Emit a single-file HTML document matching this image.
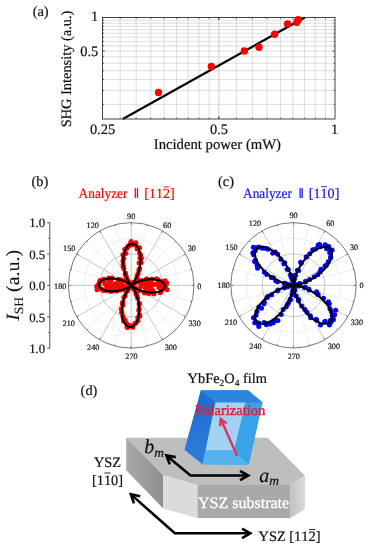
<!DOCTYPE html>
<html lang="en">
<head>
<meta charset="utf-8">
<title>SHG figure</title>
<style>
html,body{margin:0;padding:0;background:#ffffff;}
body{width:369px;height:550px;overflow:hidden;}
svg{display:block;}
svg text{white-space:pre;font-kerning:none;text-rendering:geometricPrecision;stroke-width:0.2px;}
</style>
</head>
<body>
<svg width="369" height="550" viewBox="0 0 369 550">
<rect x="0" y="0" width="369" height="550" fill="#ffffff"/>
<g stroke="#d4d4d4" stroke-width="0.8" fill="none">
<line x1="120.17" y1="17.5" x2="120.17" y2="119.0"/>
<line x1="136.16" y1="17.5" x2="136.16" y2="119.0"/>
<line x1="150.75" y1="17.5" x2="150.75" y2="119.0"/>
<line x1="164.17" y1="17.5" x2="164.17" y2="119.0"/>
<line x1="176.60" y1="17.5" x2="176.60" y2="119.0"/>
<line x1="188.17" y1="17.5" x2="188.17" y2="119.0"/>
<line x1="199.00" y1="17.5" x2="199.00" y2="119.0"/>
<line x1="209.16" y1="17.5" x2="209.16" y2="119.0"/>
<line x1="218.75" y1="17.5" x2="218.75" y2="119.0"/>
<line x1="218.75" y1="17.5" x2="218.75" y2="119.0"/>
<line x1="236.42" y1="17.5" x2="236.42" y2="119.0"/>
<line x1="252.41" y1="17.5" x2="252.41" y2="119.0"/>
<line x1="267.00" y1="17.5" x2="267.00" y2="119.0"/>
<line x1="280.42" y1="17.5" x2="280.42" y2="119.0"/>
<line x1="292.85" y1="17.5" x2="292.85" y2="119.0"/>
<line x1="304.42" y1="17.5" x2="304.42" y2="119.0"/>
<line x1="315.25" y1="17.5" x2="315.25" y2="119.0"/>
<line x1="325.41" y1="17.5" x2="325.41" y2="119.0"/>
<line x1="102.5" y1="20.27" x2="335.0" y2="20.27"/>
<line x1="102.5" y1="23.21" x2="335.0" y2="23.21"/>
<line x1="102.5" y1="26.34" x2="335.0" y2="26.34"/>
<line x1="102.5" y1="29.68" x2="335.0" y2="29.68"/>
<line x1="102.5" y1="33.27" x2="335.0" y2="33.27"/>
<line x1="102.5" y1="37.15" x2="335.0" y2="37.15"/>
<line x1="102.5" y1="41.37" x2="335.0" y2="41.37"/>
<line x1="102.5" y1="45.99" x2="335.0" y2="45.99"/>
<line x1="102.5" y1="51.10" x2="335.0" y2="51.10"/>
<line x1="102.5" y1="56.81" x2="335.0" y2="56.81"/>
<line x1="102.5" y1="63.28" x2="335.0" y2="63.28"/>
<line x1="102.5" y1="70.75" x2="335.0" y2="70.75"/>
<line x1="102.5" y1="79.59" x2="335.0" y2="79.59"/>
<line x1="102.5" y1="90.41" x2="335.0" y2="90.41"/>
<line x1="102.5" y1="104.35" x2="335.0" y2="104.35"/>
</g>
<g stroke="#333" stroke-width="0.8" fill="none">
<line x1="120.17" y1="119.0" x2="120.17" y2="117.6"/>
<line x1="120.17" y1="17.5" x2="120.17" y2="18.9"/>
<line x1="136.16" y1="119.0" x2="136.16" y2="117.6"/>
<line x1="136.16" y1="17.5" x2="136.16" y2="18.9"/>
<line x1="150.75" y1="119.0" x2="150.75" y2="117.6"/>
<line x1="150.75" y1="17.5" x2="150.75" y2="18.9"/>
<line x1="164.17" y1="119.0" x2="164.17" y2="117.6"/>
<line x1="164.17" y1="17.5" x2="164.17" y2="18.9"/>
<line x1="176.60" y1="119.0" x2="176.60" y2="117.6"/>
<line x1="176.60" y1="17.5" x2="176.60" y2="18.9"/>
<line x1="188.17" y1="119.0" x2="188.17" y2="117.6"/>
<line x1="188.17" y1="17.5" x2="188.17" y2="18.9"/>
<line x1="199.00" y1="119.0" x2="199.00" y2="117.6"/>
<line x1="199.00" y1="17.5" x2="199.00" y2="18.9"/>
<line x1="209.16" y1="119.0" x2="209.16" y2="117.6"/>
<line x1="209.16" y1="17.5" x2="209.16" y2="18.9"/>
<line x1="218.75" y1="119.0" x2="218.75" y2="116.6"/>
<line x1="218.75" y1="17.5" x2="218.75" y2="19.9"/>
<line x1="218.75" y1="119.0" x2="218.75" y2="116.6"/>
<line x1="218.75" y1="17.5" x2="218.75" y2="19.9"/>
<line x1="236.42" y1="119.0" x2="236.42" y2="117.6"/>
<line x1="236.42" y1="17.5" x2="236.42" y2="18.9"/>
<line x1="252.41" y1="119.0" x2="252.41" y2="117.6"/>
<line x1="252.41" y1="17.5" x2="252.41" y2="18.9"/>
<line x1="267.00" y1="119.0" x2="267.00" y2="117.6"/>
<line x1="267.00" y1="17.5" x2="267.00" y2="18.9"/>
<line x1="280.42" y1="119.0" x2="280.42" y2="117.6"/>
<line x1="280.42" y1="17.5" x2="280.42" y2="18.9"/>
<line x1="292.85" y1="119.0" x2="292.85" y2="117.6"/>
<line x1="292.85" y1="17.5" x2="292.85" y2="18.9"/>
<line x1="304.42" y1="119.0" x2="304.42" y2="117.6"/>
<line x1="304.42" y1="17.5" x2="304.42" y2="18.9"/>
<line x1="315.25" y1="119.0" x2="315.25" y2="117.6"/>
<line x1="315.25" y1="17.5" x2="315.25" y2="18.9"/>
<line x1="325.41" y1="119.0" x2="325.41" y2="117.6"/>
<line x1="325.41" y1="17.5" x2="325.41" y2="18.9"/>
<line x1="102.5" y1="20.27" x2="103.9" y2="20.27"/>
<line x1="335.0" y1="20.27" x2="333.6" y2="20.27"/>
<line x1="102.5" y1="23.21" x2="103.9" y2="23.21"/>
<line x1="335.0" y1="23.21" x2="333.6" y2="23.21"/>
<line x1="102.5" y1="26.34" x2="103.9" y2="26.34"/>
<line x1="335.0" y1="26.34" x2="333.6" y2="26.34"/>
<line x1="102.5" y1="29.68" x2="103.9" y2="29.68"/>
<line x1="335.0" y1="29.68" x2="333.6" y2="29.68"/>
<line x1="102.5" y1="33.27" x2="103.9" y2="33.27"/>
<line x1="335.0" y1="33.27" x2="333.6" y2="33.27"/>
<line x1="102.5" y1="37.15" x2="103.9" y2="37.15"/>
<line x1="335.0" y1="37.15" x2="333.6" y2="37.15"/>
<line x1="102.5" y1="41.37" x2="103.9" y2="41.37"/>
<line x1="335.0" y1="41.37" x2="333.6" y2="41.37"/>
<line x1="102.5" y1="45.99" x2="103.9" y2="45.99"/>
<line x1="335.0" y1="45.99" x2="333.6" y2="45.99"/>
<line x1="102.5" y1="51.10" x2="104.9" y2="51.10"/>
<line x1="335.0" y1="51.10" x2="332.6" y2="51.10"/>
<line x1="102.5" y1="56.81" x2="103.9" y2="56.81"/>
<line x1="335.0" y1="56.81" x2="333.6" y2="56.81"/>
<line x1="102.5" y1="63.28" x2="103.9" y2="63.28"/>
<line x1="335.0" y1="63.28" x2="333.6" y2="63.28"/>
<line x1="102.5" y1="70.75" x2="103.9" y2="70.75"/>
<line x1="335.0" y1="70.75" x2="333.6" y2="70.75"/>
<line x1="102.5" y1="79.59" x2="103.9" y2="79.59"/>
<line x1="335.0" y1="79.59" x2="333.6" y2="79.59"/>
<line x1="102.5" y1="90.41" x2="103.9" y2="90.41"/>
<line x1="335.0" y1="90.41" x2="333.6" y2="90.41"/>
<line x1="102.5" y1="104.35" x2="103.9" y2="104.35"/>
<line x1="335.0" y1="104.35" x2="333.6" y2="104.35"/>
</g>
<line x1="122.8" y1="119.0" x2="304.8" y2="17.5" stroke="#000" stroke-width="2.2"/>
<rect x="102.5" y="17.5" width="232.5" height="101.5" fill="none" stroke="#3a3a3a" stroke-width="0.95"/>
<circle cx="158.5" cy="92.5" r="3.7" fill="#ff0000"/>
<circle cx="211.3" cy="66.5" r="3.7" fill="#ff0000"/>
<circle cx="244.4" cy="51.0" r="3.7" fill="#ff0000"/>
<circle cx="259.0" cy="47.3" r="3.7" fill="#ff0000"/>
<circle cx="274.6" cy="34.2" r="3.7" fill="#ff0000"/>
<circle cx="287.6" cy="24.0" r="3.7" fill="#ff0000"/>
<circle cx="296.8" cy="22.2" r="3.7" fill="#ff0000"/>
<circle cx="298.2" cy="19.8" r="3.7" fill="#ff0000"/>
<g font-family="'Liberation Serif', 'DejaVu Serif', serif" font-size="14.4px" fill="#111" stroke="#111">
<text x="32.7" y="15.8">(a)</text>
<text x="98.2" y="21.2" text-anchor="end">1</text>
<text x="98.2" y="56.2" text-anchor="end">0.5</text>
<text x="102.5" y="134.3" text-anchor="middle">0.25</text>
<text x="219" y="134.3" text-anchor="middle">0.5</text>
<text x="334.5" y="134.3" text-anchor="middle">1</text>
<text x="217.4" y="148.6" text-anchor="middle" font-size="14.7px">Incident power (mW)</text>
<text transform="translate(71.3,69) rotate(-90)" text-anchor="middle">SHG Intensity (a.u.)</text>
</g>
<g fill="none" stroke="#e6e6e6" stroke-width="0.7">
<line x1="131.20" y1="285.40" x2="191.86" y2="269.15"/>
<line x1="131.20" y1="285.40" x2="175.61" y2="240.99"/>
<line x1="131.20" y1="285.40" x2="147.45" y2="224.74"/>
<line x1="131.20" y1="285.40" x2="114.95" y2="224.74"/>
<line x1="131.20" y1="285.40" x2="86.79" y2="240.99"/>
<line x1="131.20" y1="285.40" x2="70.54" y2="269.15"/>
<line x1="131.20" y1="285.40" x2="70.54" y2="301.65"/>
<line x1="131.20" y1="285.40" x2="86.79" y2="329.81"/>
<line x1="131.20" y1="285.40" x2="114.95" y2="346.06"/>
<line x1="131.20" y1="285.40" x2="147.45" y2="346.06"/>
<line x1="131.20" y1="285.40" x2="175.61" y2="329.81"/>
<line x1="131.20" y1="285.40" x2="191.86" y2="301.65"/>
<circle cx="131.2" cy="285.4" r="15.70"/>
<circle cx="131.2" cy="285.4" r="47.10"/>
</g>
<g fill="none" stroke="#b9b9b9" stroke-width="0.8">
<line x1="131.20" y1="285.40" x2="194.00" y2="285.40"/>
<line x1="131.20" y1="285.40" x2="185.59" y2="254.00"/>
<line x1="131.20" y1="285.40" x2="162.60" y2="231.01"/>
<line x1="131.20" y1="285.40" x2="131.20" y2="222.60"/>
<line x1="131.20" y1="285.40" x2="99.80" y2="231.01"/>
<line x1="131.20" y1="285.40" x2="76.81" y2="254.00"/>
<line x1="131.20" y1="285.40" x2="68.40" y2="285.40"/>
<line x1="131.20" y1="285.40" x2="76.81" y2="316.80"/>
<line x1="131.20" y1="285.40" x2="99.80" y2="339.79"/>
<line x1="131.20" y1="285.40" x2="131.20" y2="348.20"/>
<line x1="131.20" y1="285.40" x2="162.60" y2="339.79"/>
<line x1="131.20" y1="285.40" x2="185.59" y2="316.80"/>
<circle cx="131.2" cy="285.4" r="31.40"/>
</g>
<g fill="none" stroke="#666" stroke-width="0.9">
<circle cx="131.2" cy="285.4" r="62.8"/>
<line x1="194.00" y1="285.40" x2="191.80" y2="285.40"/>
<line x1="191.86" y1="269.15" x2="190.51" y2="269.51"/>
<line x1="185.59" y1="254.00" x2="183.68" y2="255.10"/>
<line x1="175.61" y1="240.99" x2="174.62" y2="241.98"/>
<line x1="162.60" y1="231.01" x2="161.50" y2="232.92"/>
<line x1="147.45" y1="224.74" x2="147.09" y2="226.09"/>
<line x1="131.20" y1="222.60" x2="131.20" y2="224.80"/>
<line x1="114.95" y1="224.74" x2="115.31" y2="226.09"/>
<line x1="99.80" y1="231.01" x2="100.90" y2="232.92"/>
<line x1="86.79" y1="240.99" x2="87.78" y2="241.98"/>
<line x1="76.81" y1="254.00" x2="78.72" y2="255.10"/>
<line x1="70.54" y1="269.15" x2="71.89" y2="269.51"/>
<line x1="68.40" y1="285.40" x2="70.60" y2="285.40"/>
<line x1="70.54" y1="301.65" x2="71.89" y2="301.29"/>
<line x1="76.81" y1="316.80" x2="78.72" y2="315.70"/>
<line x1="86.79" y1="329.81" x2="87.78" y2="328.82"/>
<line x1="99.80" y1="339.79" x2="100.90" y2="337.88"/>
<line x1="114.95" y1="346.06" x2="115.31" y2="344.71"/>
<line x1="131.20" y1="348.20" x2="131.20" y2="346.00"/>
<line x1="147.45" y1="346.06" x2="147.09" y2="344.71"/>
<line x1="162.60" y1="339.79" x2="161.50" y2="337.88"/>
<line x1="175.61" y1="329.81" x2="174.62" y2="328.82"/>
<line x1="185.59" y1="316.80" x2="183.68" y2="315.70"/>
<line x1="191.86" y1="301.65" x2="190.51" y2="301.29"/>
</g>
<g fill="#ff0000">
<circle cx="166.14" cy="284.53" r="2.5"/>
<circle cx="166.66" cy="282.81" r="2.5"/>
<circle cx="165.04" cy="280.79" r="2.5"/>
<circle cx="159.71" cy="282.20" r="2.5"/>
<circle cx="161.61" cy="281.40" r="2.5"/>
<circle cx="158.85" cy="281.03" r="2.5"/>
<circle cx="158.19" cy="279.84" r="2.5"/>
<circle cx="156.53" cy="278.68" r="2.5"/>
<circle cx="151.93" cy="278.94" r="2.5"/>
<circle cx="149.25" cy="280.10" r="2.5"/>
<circle cx="146.37" cy="279.22" r="2.5"/>
<circle cx="146.69" cy="278.95" r="2.5"/>
<circle cx="141.91" cy="280.69" r="2.5"/>
<circle cx="140.89" cy="280.40" r="2.5"/>
<circle cx="137.51" cy="281.87" r="2.5"/>
<circle cx="134.89" cy="283.35" r="2.5"/>
<circle cx="132.07" cy="284.91" r="2.5"/>
<circle cx="132.38" cy="284.54" r="2.5"/>
<circle cx="131.34" cy="285.30" r="2.5"/>
<circle cx="131.72" cy="284.96" r="2.5"/>
<circle cx="131.96" cy="284.75" r="2.5"/>
<circle cx="131.23" cy="285.37" r="2.5"/>
<circle cx="131.20" cy="285.40" r="2.5"/>
<circle cx="131.26" cy="285.33" r="2.5"/>
<circle cx="132.51" cy="283.95" r="2.5"/>
<circle cx="132.88" cy="283.41" r="2.5"/>
<circle cx="133.88" cy="282.09" r="2.5"/>
<circle cx="136.92" cy="278.12" r="2.5"/>
<circle cx="133.15" cy="282.53" r="2.5"/>
<circle cx="137.11" cy="275.79" r="2.5"/>
<circle cx="138.11" cy="273.51" r="2.5"/>
<circle cx="138.97" cy="270.07" r="2.5"/>
<circle cx="139.60" cy="268.51" r="2.5"/>
<circle cx="141.13" cy="262.44" r="2.5"/>
<circle cx="139.05" cy="263.02" r="2.5"/>
<circle cx="141.41" cy="258.35" r="2.5"/>
<circle cx="139.94" cy="257.96" r="2.5"/>
<circle cx="140.59" cy="255.10" r="2.5"/>
<circle cx="139.59" cy="253.16" r="2.5"/>
<circle cx="139.57" cy="247.65" r="2.5"/>
<circle cx="137.10" cy="249.10" r="2.5"/>
<circle cx="136.13" cy="245.43" r="2.5"/>
<circle cx="135.83" cy="242.76" r="2.5"/>
<circle cx="134.14" cy="243.83" r="2.5"/>
<circle cx="132.07" cy="244.84" r="2.5"/>
<circle cx="131.05" cy="241.41" r="2.5"/>
<circle cx="129.97" cy="244.16" r="2.5"/>
<circle cx="129.07" cy="245.81" r="2.5"/>
<circle cx="127.78" cy="246.57" r="2.5"/>
<circle cx="127.17" cy="248.23" r="2.5"/>
<circle cx="124.80" cy="249.31" r="2.5"/>
<circle cx="125.92" cy="253.39" r="2.5"/>
<circle cx="122.85" cy="254.82" r="2.5"/>
<circle cx="123.70" cy="258.26" r="2.5"/>
<circle cx="122.93" cy="261.04" r="2.5"/>
<circle cx="123.10" cy="264.43" r="2.5"/>
<circle cx="123.16" cy="266.51" r="2.5"/>
<circle cx="123.87" cy="268.72" r="2.5"/>
<circle cx="125.50" cy="273.30" r="2.5"/>
<circle cx="125.20" cy="274.47" r="2.5"/>
<circle cx="126.26" cy="276.57" r="2.5"/>
<circle cx="126.78" cy="278.62" r="2.5"/>
<circle cx="128.28" cy="280.98" r="2.5"/>
<circle cx="129.27" cy="282.83" r="2.5"/>
<circle cx="129.34" cy="282.93" r="2.5"/>
<circle cx="130.08" cy="284.04" r="2.5"/>
<circle cx="131.20" cy="285.40" r="2.5"/>
<circle cx="130.37" cy="284.51" r="2.5"/>
<circle cx="131.10" cy="285.31" r="2.5"/>
<circle cx="131.20" cy="285.40" r="2.5"/>
<circle cx="129.32" cy="283.85" r="2.5"/>
<circle cx="131.20" cy="285.40" r="2.5"/>
<circle cx="127.75" cy="282.81" r="2.5"/>
<circle cx="127.44" cy="282.95" r="2.5"/>
<circle cx="123.47" cy="281.07" r="2.5"/>
<circle cx="122.92" cy="280.85" r="2.5"/>
<circle cx="120.39" cy="279.83" r="2.5"/>
<circle cx="118.59" cy="279.49" r="2.5"/>
<circle cx="118.32" cy="279.60" r="2.5"/>
<circle cx="112.06" cy="277.91" r="2.5"/>
<circle cx="108.89" cy="277.91" r="2.5"/>
<circle cx="110.18" cy="279.36" r="2.5"/>
<circle cx="108.87" cy="279.79" r="2.5"/>
<circle cx="103.65" cy="279.35" r="2.5"/>
<circle cx="104.51" cy="279.64" r="2.5"/>
<circle cx="100.03" cy="280.38" r="2.5"/>
<circle cx="101.22" cy="280.94" r="2.5"/>
<circle cx="99.39" cy="282.22" r="2.5"/>
<circle cx="98.73" cy="284.17" r="2.5"/>
<circle cx="99.12" cy="285.18" r="2.5"/>
<circle cx="97.44" cy="285.91" r="2.5"/>
<circle cx="96.68" cy="286.48" r="2.5"/>
<circle cx="98.40" cy="288.02" r="2.5"/>
<circle cx="97.02" cy="289.78" r="2.5"/>
<circle cx="101.69" cy="289.35" r="2.5"/>
<circle cx="103.73" cy="290.69" r="2.5"/>
<circle cx="106.52" cy="290.10" r="2.5"/>
<circle cx="106.09" cy="290.87" r="2.5"/>
<circle cx="110.58" cy="291.56" r="2.5"/>
<circle cx="112.22" cy="290.99" r="2.5"/>
<circle cx="116.46" cy="290.91" r="2.5"/>
<circle cx="119.24" cy="290.01" r="2.5"/>
<circle cx="120.48" cy="289.83" r="2.5"/>
<circle cx="123.10" cy="289.36" r="2.5"/>
<circle cx="126.12" cy="288.22" r="2.5"/>
<circle cx="126.40" cy="288.40" r="2.5"/>
<circle cx="130.04" cy="286.17" r="2.5"/>
<circle cx="127.91" cy="287.63" r="2.5"/>
<circle cx="130.24" cy="286.06" r="2.5"/>
<circle cx="130.60" cy="285.84" r="2.5"/>
<circle cx="131.07" cy="285.51" r="2.5"/>
<circle cx="131.20" cy="285.40" r="2.5"/>
<circle cx="130.61" cy="285.97" r="2.5"/>
<circle cx="129.07" cy="287.72" r="2.5"/>
<circle cx="129.95" cy="286.80" r="2.5"/>
<circle cx="128.99" cy="287.98" r="2.5"/>
<circle cx="127.54" cy="289.85" r="2.5"/>
<circle cx="126.07" cy="291.87" r="2.5"/>
<circle cx="127.52" cy="290.66" r="2.5"/>
<circle cx="123.92" cy="297.25" r="2.5"/>
<circle cx="125.22" cy="295.70" r="2.5"/>
<circle cx="122.80" cy="302.02" r="2.5"/>
<circle cx="122.37" cy="303.37" r="2.5"/>
<circle cx="122.89" cy="305.28" r="2.5"/>
<circle cx="121.28" cy="309.04" r="2.5"/>
<circle cx="121.88" cy="312.14" r="2.5"/>
<circle cx="121.72" cy="312.51" r="2.5"/>
<circle cx="122.78" cy="316.12" r="2.5"/>
<circle cx="123.32" cy="318.58" r="2.5"/>
<circle cx="123.74" cy="321.24" r="2.5"/>
<circle cx="125.11" cy="319.91" r="2.5"/>
<circle cx="126.54" cy="323.32" r="2.5"/>
<circle cx="127.87" cy="327.62" r="2.5"/>
<circle cx="127.02" cy="327.15" r="2.5"/>
<circle cx="129.68" cy="325.93" r="2.5"/>
<circle cx="129.86" cy="325.58" r="2.5"/>
<circle cx="132.97" cy="327.32" r="2.5"/>
<circle cx="132.23" cy="326.09" r="2.5"/>
<circle cx="135.09" cy="323.23" r="2.5"/>
<circle cx="135.99" cy="322.92" r="2.5"/>
<circle cx="137.93" cy="320.82" r="2.5"/>
<circle cx="137.77" cy="317.73" r="2.5"/>
<circle cx="139.86" cy="316.13" r="2.5"/>
<circle cx="139.40" cy="314.54" r="2.5"/>
<circle cx="138.76" cy="310.35" r="2.5"/>
<circle cx="139.20" cy="308.91" r="2.5"/>
<circle cx="139.26" cy="304.57" r="2.5"/>
<circle cx="139.26" cy="303.35" r="2.5"/>
<circle cx="137.76" cy="298.58" r="2.5"/>
<circle cx="136.95" cy="295.87" r="2.5"/>
<circle cx="136.00" cy="293.94" r="2.5"/>
<circle cx="135.97" cy="293.05" r="2.5"/>
<circle cx="133.46" cy="288.85" r="2.5"/>
<circle cx="134.00" cy="289.53" r="2.5"/>
<circle cx="131.66" cy="285.99" r="2.5"/>
<circle cx="131.60" cy="285.92" r="2.5"/>
<circle cx="131.20" cy="285.40" r="2.5"/>
<circle cx="132.29" cy="286.54" r="2.5"/>
<circle cx="131.33" cy="285.52" r="2.5"/>
<circle cx="131.72" cy="285.89" r="2.5"/>
<circle cx="133.20" cy="287.08" r="2.5"/>
<circle cx="132.56" cy="286.41" r="2.5"/>
<circle cx="135.18" cy="288.37" r="2.5"/>
<circle cx="136.96" cy="289.02" r="2.5"/>
<circle cx="138.72" cy="289.89" r="2.5"/>
<circle cx="139.73" cy="290.57" r="2.5"/>
<circle cx="144.48" cy="292.90" r="2.5"/>
<circle cx="145.53" cy="292.47" r="2.5"/>
<circle cx="148.72" cy="293.80" r="2.5"/>
<circle cx="145.90" cy="290.88" r="2.5"/>
<circle cx="153.87" cy="293.99" r="2.5"/>
<circle cx="151.94" cy="292.22" r="2.5"/>
<circle cx="153.42" cy="292.05" r="2.5"/>
<circle cx="160.15" cy="292.60" r="2.5"/>
<circle cx="160.37" cy="292.51" r="2.5"/>
<circle cx="161.74" cy="289.96" r="2.5"/>
<circle cx="162.47" cy="288.59" r="2.5"/>
<circle cx="167.07" cy="289.74" r="2.5"/>
<circle cx="162.92" cy="288.49" r="2.5"/>
<circle cx="165.33" cy="286.75" r="2.5"/>
<circle cx="110.53" cy="281.43" r="2.5"/>
<circle cx="112.99" cy="287.45" r="2.5"/>
<circle cx="116.53" cy="286.95" r="2.5"/>
<circle cx="115.27" cy="283.75" r="2.5"/>
<circle cx="123.61" cy="286.66" r="2.5"/>
<circle cx="117.78" cy="285.43" r="2.5"/>
<circle cx="116.87" cy="287.10" r="2.5"/>
<circle cx="114.55" cy="284.17" r="2.5"/>
<circle cx="106.56" cy="285.85" r="2.5"/>
<circle cx="104.93" cy="283.70" r="2.5"/>
<circle cx="118.62" cy="283.23" r="2.5"/>
<circle cx="121.78" cy="283.72" r="2.5"/>
<circle cx="109.66" cy="288.06" r="2.5"/>
<circle cx="119.75" cy="283.80" r="2.5"/>
<circle cx="106.99" cy="284.51" r="2.5"/>
<circle cx="109.77" cy="288.40" r="2.5"/>
<circle cx="120.14" cy="285.85" r="2.5"/>
<circle cx="118.92" cy="284.85" r="2.5"/>
<circle cx="110.89" cy="285.65" r="2.5"/>
<circle cx="118.40" cy="283.71" r="2.5"/>
<circle cx="123.32" cy="286.38" r="2.5"/>
<circle cx="106.84" cy="288.67" r="2.5"/>
<circle cx="144.62" cy="282.71" r="2.5"/>
<circle cx="152.54" cy="284.91" r="2.5"/>
<circle cx="160.68" cy="283.66" r="2.5"/>
<circle cx="145.58" cy="284.22" r="2.5"/>
<circle cx="147.67" cy="282.77" r="2.5"/>
<circle cx="155.46" cy="284.32" r="2.5"/>
<circle cx="152.62" cy="290.17" r="2.5"/>
<circle cx="149.89" cy="284.07" r="2.5"/>
<circle cx="149.89" cy="285.21" r="2.5"/>
<circle cx="150.38" cy="288.00" r="2.5"/>
<circle cx="148.03" cy="288.88" r="2.5"/>
<circle cx="148.97" cy="284.26" r="2.5"/>
<circle cx="160.85" cy="284.54" r="2.5"/>
<circle cx="140.72" cy="283.74" r="2.5"/>
<circle cx="151.30" cy="282.80" r="2.5"/>
<circle cx="145.47" cy="288.26" r="2.5"/>
<circle cx="140.95" cy="286.55" r="2.5"/>
<circle cx="160.35" cy="284.90" r="2.5"/>
<circle cx="158.85" cy="287.56" r="2.5"/>
<circle cx="142.01" cy="284.47" r="2.5"/>
<circle cx="149.94" cy="282.42" r="2.5"/>
<circle cx="150.94" cy="281.65" r="2.5"/>
</g>
<polyline points="164.76,285.40 164.59,284.82 164.31,284.24 163.94,283.68 163.49,283.14 162.94,282.62 162.31,282.13 161.59,281.67 160.80,281.24 159.94,280.85 159.01,280.50 158.02,280.19 156.97,279.92 155.87,279.70 154.74,279.53 153.56,279.41 152.36,279.33 151.14,279.30 149.90,279.32 148.65,279.39 147.41,279.50 146.17,279.65 144.95,279.85 143.74,280.08 142.57,280.34 141.42,280.63 140.32,280.95 139.26,281.29 138.25,281.65 137.30,282.02 136.41,282.39 135.58,282.77 134.81,283.14 134.12,283.50 133.50,283.85 132.95,284.18 132.47,284.47 132.08,284.74 131.75,284.97 131.51,285.15 131.33,285.29 131.23,285.37 131.20,285.40 131.24,285.37 131.34,285.27 131.50,285.10 131.72,284.86 131.99,284.55 132.31,284.17 132.68,283.70 133.08,283.16 133.51,282.55 133.97,281.85 134.45,281.08 134.95,280.24 135.45,279.32 135.96,278.34 136.47,277.28 136.97,276.17 137.45,274.99 137.92,273.77 138.36,272.49 138.77,271.17 139.14,269.81 139.48,268.42 139.78,267.00 140.03,265.57 140.23,264.13 140.38,262.68 140.47,261.24 140.51,259.81 140.50,258.40 140.42,257.02 140.29,255.67 140.10,254.36 139.85,253.10 139.55,251.90 139.20,250.76 138.79,249.69 138.34,248.69 137.83,247.77 137.29,246.94 136.71,246.20 136.09,245.56 135.44,245.01 134.77,244.57 134.08,244.23 133.37,243.99 132.65,243.86 131.93,243.84 131.20,243.93 130.48,244.13 129.77,244.44 129.07,244.84 128.40,245.36 127.75,245.97 127.13,246.67 126.54,247.47 125.99,248.36 125.49,249.33 125.02,250.38 124.61,251.50 124.24,252.68 123.93,253.92 123.67,255.21 123.47,256.55 123.32,257.92 123.23,259.33 123.19,260.75 123.21,262.19 123.28,263.64 123.40,265.08 123.57,266.52 123.79,267.95 124.05,269.35 124.35,270.72 124.69,272.06 125.06,273.35 125.46,274.60 125.88,275.80 126.31,276.94 126.76,278.01 127.22,279.02 127.67,279.97 128.12,280.84 128.56,281.63 128.99,282.35 129.39,283.00 129.76,283.56 130.11,284.05 130.41,284.46 130.67,284.79 130.88,285.05 131.05,285.23 131.15,285.35 131.20,285.40 131.18,285.38 131.10,285.31 130.95,285.18 130.73,284.99 130.44,284.76 130.08,284.49 129.65,284.19 129.14,283.85 128.57,283.49 127.92,283.10 127.21,282.71 126.43,282.30 125.59,281.90 124.70,281.49 123.75,281.10 122.75,280.71 121.70,280.35 120.61,280.01 119.49,279.69 118.35,279.41 117.17,279.16 115.99,278.94 114.79,278.77 113.59,278.64 112.40,278.56 111.22,278.52 110.05,278.53 108.91,278.59 107.81,278.69 106.74,278.85 105.71,279.05 104.74,279.29 103.82,279.58 102.97,279.91 102.19,280.28 101.47,280.69 100.84,281.13 100.28,281.60 99.81,282.10 99.43,282.62 99.14,283.16 98.93,283.71 98.83,284.27 98.81,284.83 98.89,285.40 99.06,285.96 99.33,286.51 99.68,287.05 100.13,287.57 100.66,288.07 101.27,288.55 101.96,288.99 102.72,289.40 103.56,289.78 104.46,290.12 105.42,290.41 106.43,290.67 107.49,290.87 108.59,291.04 109.72,291.15 110.89,291.23 112.07,291.25 113.27,291.23 114.47,291.16 115.67,291.05 116.87,290.90 118.05,290.71 119.21,290.49 120.35,290.23 121.45,289.95 122.51,289.64 123.53,289.31 124.50,288.96 125.42,288.60 126.28,288.24 127.07,287.88 127.81,287.52 128.47,287.17 129.06,286.84 129.59,286.53 130.03,286.25 130.41,286.00 130.71,285.78 130.94,285.61 131.10,285.49 131.18,285.42 131.20,285.40 131.15,285.45 131.04,285.56 130.87,285.73 130.64,285.98 130.36,286.30 130.04,286.69 129.67,287.16 129.26,287.71 128.83,288.33 128.37,289.02 127.89,289.80 127.39,290.64 126.89,291.56 126.38,292.54 125.88,293.60 125.38,294.71 124.90,295.88 124.44,297.11 124.00,298.38 123.60,299.70 123.22,301.06 122.89,302.44 122.60,303.85 122.35,305.28 122.15,306.72 122.00,308.16 121.91,309.60 121.87,311.02 121.89,312.43 121.97,313.81 122.10,315.15 122.29,316.46 122.54,317.71 122.84,318.91 123.20,320.05 123.61,321.12 124.06,322.12 124.56,323.03 125.11,323.86 125.69,324.60 126.31,325.24 126.95,325.79 127.63,326.23 128.32,326.57 129.03,326.81 129.75,326.94 130.47,326.96 131.20,326.87 131.92,326.67 132.63,326.36 133.33,325.96 134.00,325.44 134.65,324.83 135.27,324.12 135.86,323.32 136.40,322.43 136.91,321.46 137.37,320.41 137.79,319.29 138.15,318.11 138.46,316.86 138.72,315.57 138.92,314.23 139.07,312.85 139.16,311.44 139.20,310.01 139.18,308.57 139.10,307.11 138.98,305.66 138.80,304.22 138.58,302.79 138.32,301.39 138.01,300.01 137.67,298.67 137.30,297.37 136.90,296.12 136.48,294.92 136.04,293.78 135.59,292.70 135.13,291.69 134.67,290.75 134.22,289.88 133.78,289.09 133.36,288.37 132.96,287.73 132.58,287.17 132.25,286.69 131.95,286.29 131.69,285.96 131.48,285.72 131.33,285.54 131.23,285.44 131.20,285.40 131.23,285.43 131.33,285.52 131.49,285.66 131.73,285.86 132.04,286.11 132.42,286.39 132.88,286.71 133.41,287.07 134.02,287.45 134.69,287.84 135.43,288.25 136.24,288.67 137.11,289.10 138.05,289.51 139.03,289.92 140.07,290.32 141.16,290.70 142.28,291.05 143.45,291.37 144.64,291.67 145.85,291.92 147.08,292.14 148.32,292.31 149.56,292.45 150.79,292.53 152.01,292.57 153.22,292.55 154.40,292.49 155.54,292.38 156.65,292.22 157.71,292.01 158.71,291.75 159.66,291.45 160.54,291.10 161.36,290.72 162.09,290.29 162.75,289.83 163.32,289.34 163.81,288.83 164.21,288.29 164.51,287.73 164.72,287.16 164.83,286.57 164.84,285.99 164.76,285.40" fill="none" stroke="#000" stroke-width="2.1" stroke-linejoin="round"/>
<g font-family="'Liberation Serif', 'DejaVu Serif', serif" font-size="8.2px" fill="#111" stroke="#111" text-anchor="middle">
<text x="131.2" y="219.1">90</text>
<text x="167.2" y="227.6">60</text>
<text x="191.8" y="251.3">30</text>
<text x="199.2" y="288.6">0</text>
<text x="194.6" y="325.6">330</text>
<text x="170.8" y="349.6">300</text>
<text x="131.5" y="358.6">270</text>
<text x="93.2" y="349.6">240</text>
<text x="68.7" y="325.6">210</text>
<text x="60.2" y="288.6">180</text>
<text x="69.2" y="251.3">150</text>
<text x="92.7" y="227.6">120</text>
</g>
<g fill="none" stroke="#e6e6e6" stroke-width="0.7">
<line x1="293.50" y1="285.30" x2="354.06" y2="269.07"/>
<line x1="293.50" y1="285.30" x2="337.84" y2="240.96"/>
<line x1="293.50" y1="285.30" x2="309.73" y2="224.74"/>
<line x1="293.50" y1="285.30" x2="277.27" y2="224.74"/>
<line x1="293.50" y1="285.30" x2="249.16" y2="240.96"/>
<line x1="293.50" y1="285.30" x2="232.94" y2="269.07"/>
<line x1="293.50" y1="285.30" x2="232.94" y2="301.53"/>
<line x1="293.50" y1="285.30" x2="249.16" y2="329.64"/>
<line x1="293.50" y1="285.30" x2="277.27" y2="345.86"/>
<line x1="293.50" y1="285.30" x2="309.73" y2="345.86"/>
<line x1="293.50" y1="285.30" x2="337.84" y2="329.64"/>
<line x1="293.50" y1="285.30" x2="354.06" y2="301.53"/>
<circle cx="293.5" cy="285.3" r="15.68"/>
<circle cx="293.5" cy="285.3" r="47.03"/>
</g>
<g fill="none" stroke="#b9b9b9" stroke-width="0.8">
<line x1="293.50" y1="285.30" x2="356.20" y2="285.30"/>
<line x1="293.50" y1="285.30" x2="347.80" y2="253.95"/>
<line x1="293.50" y1="285.30" x2="324.85" y2="231.00"/>
<line x1="293.50" y1="285.30" x2="293.50" y2="222.60"/>
<line x1="293.50" y1="285.30" x2="262.15" y2="231.00"/>
<line x1="293.50" y1="285.30" x2="239.20" y2="253.95"/>
<line x1="293.50" y1="285.30" x2="230.80" y2="285.30"/>
<line x1="293.50" y1="285.30" x2="239.20" y2="316.65"/>
<line x1="293.50" y1="285.30" x2="262.15" y2="339.60"/>
<line x1="293.50" y1="285.30" x2="293.50" y2="348.00"/>
<line x1="293.50" y1="285.30" x2="324.85" y2="339.60"/>
<line x1="293.50" y1="285.30" x2="347.80" y2="316.65"/>
<circle cx="293.5" cy="285.3" r="31.35"/>
</g>
<g fill="none" stroke="#666" stroke-width="0.9">
<circle cx="293.5" cy="285.3" r="62.7"/>
<line x1="356.20" y1="285.30" x2="354.00" y2="285.30"/>
<line x1="354.06" y1="269.07" x2="352.71" y2="269.43"/>
<line x1="347.80" y1="253.95" x2="345.89" y2="255.05"/>
<line x1="337.84" y1="240.96" x2="336.85" y2="241.95"/>
<line x1="324.85" y1="231.00" x2="323.75" y2="232.91"/>
<line x1="309.73" y1="224.74" x2="309.37" y2="226.09"/>
<line x1="293.50" y1="222.60" x2="293.50" y2="224.80"/>
<line x1="277.27" y1="224.74" x2="277.63" y2="226.09"/>
<line x1="262.15" y1="231.00" x2="263.25" y2="232.91"/>
<line x1="249.16" y1="240.96" x2="250.15" y2="241.95"/>
<line x1="239.20" y1="253.95" x2="241.11" y2="255.05"/>
<line x1="232.94" y1="269.07" x2="234.29" y2="269.43"/>
<line x1="230.80" y1="285.30" x2="233.00" y2="285.30"/>
<line x1="232.94" y1="301.53" x2="234.29" y2="301.17"/>
<line x1="239.20" y1="316.65" x2="241.11" y2="315.55"/>
<line x1="249.16" y1="329.64" x2="250.15" y2="328.65"/>
<line x1="262.15" y1="339.60" x2="263.25" y2="337.69"/>
<line x1="277.27" y1="345.86" x2="277.63" y2="344.51"/>
<line x1="293.50" y1="348.00" x2="293.50" y2="345.80"/>
<line x1="309.73" y1="345.86" x2="309.37" y2="344.51"/>
<line x1="324.85" y1="339.60" x2="323.75" y2="337.69"/>
<line x1="337.84" y1="329.64" x2="336.85" y2="328.65"/>
<line x1="347.80" y1="316.65" x2="345.89" y2="315.55"/>
<line x1="354.06" y1="301.53" x2="352.71" y2="301.17"/>
</g>
<g fill="#0000ff">
<circle cx="293.50" cy="285.30" r="2.5"/>
<circle cx="293.50" cy="285.30" r="2.5"/>
<circle cx="293.50" cy="285.30" r="2.5"/>
<circle cx="297.36" cy="284.71" r="2.5"/>
<circle cx="298.89" cy="284.30" r="2.5"/>
<circle cx="299.99" cy="283.87" r="2.5"/>
<circle cx="299.35" cy="283.71" r="2.5"/>
<circle cx="305.72" cy="281.62" r="2.5"/>
<circle cx="305.59" cy="281.79" r="2.5"/>
<circle cx="309.64" cy="279.53" r="2.5"/>
<circle cx="314.28" cy="276.84" r="2.5"/>
<circle cx="317.66" cy="274.81" r="2.5"/>
<circle cx="319.98" cy="272.01" r="2.5"/>
<circle cx="320.93" cy="269.35" r="2.5"/>
<circle cx="325.01" cy="265.93" r="2.5"/>
<circle cx="326.35" cy="265.29" r="2.5"/>
<circle cx="328.18" cy="261.84" r="2.5"/>
<circle cx="330.50" cy="257.94" r="2.5"/>
<circle cx="330.76" cy="257.12" r="2.5"/>
<circle cx="329.78" cy="253.09" r="2.5"/>
<circle cx="330.05" cy="251.83" r="2.5"/>
<circle cx="332.14" cy="249.90" r="2.5"/>
<circle cx="328.73" cy="246.59" r="2.5"/>
<circle cx="326.56" cy="248.80" r="2.5"/>
<circle cx="327.18" cy="246.20" r="2.5"/>
<circle cx="325.12" cy="244.64" r="2.5"/>
<circle cx="320.42" cy="246.65" r="2.5"/>
<circle cx="319.65" cy="244.59" r="2.5"/>
<circle cx="318.10" cy="244.98" r="2.5"/>
<circle cx="315.61" cy="248.92" r="2.5"/>
<circle cx="312.74" cy="249.87" r="2.5"/>
<circle cx="309.74" cy="253.76" r="2.5"/>
<circle cx="306.42" cy="256.83" r="2.5"/>
<circle cx="306.21" cy="256.92" r="2.5"/>
<circle cx="301.31" cy="263.27" r="2.5"/>
<circle cx="300.61" cy="262.23" r="2.5"/>
<circle cx="298.50" cy="270.50" r="2.5"/>
<circle cx="297.46" cy="270.15" r="2.5"/>
<circle cx="295.41" cy="275.16" r="2.5"/>
<circle cx="295.21" cy="275.23" r="2.5"/>
<circle cx="294.32" cy="278.93" r="2.5"/>
<circle cx="294.06" cy="279.00" r="2.5"/>
<circle cx="293.67" cy="282.29" r="2.5"/>
<circle cx="293.50" cy="285.30" r="2.5"/>
<circle cx="293.48" cy="283.62" r="2.5"/>
<circle cx="293.50" cy="285.30" r="2.5"/>
<circle cx="293.44" cy="283.79" r="2.5"/>
<circle cx="293.41" cy="284.58" r="2.5"/>
<circle cx="293.45" cy="285.03" r="2.5"/>
<circle cx="292.67" cy="280.61" r="2.5"/>
<circle cx="292.04" cy="278.93" r="2.5"/>
<circle cx="291.16" cy="276.88" r="2.5"/>
<circle cx="290.52" cy="274.70" r="2.5"/>
<circle cx="288.28" cy="269.45" r="2.5"/>
<circle cx="287.27" cy="269.32" r="2.5"/>
<circle cx="284.57" cy="262.84" r="2.5"/>
<circle cx="283.93" cy="263.85" r="2.5"/>
<circle cx="280.88" cy="259.25" r="2.5"/>
<circle cx="277.68" cy="254.27" r="2.5"/>
<circle cx="275.20" cy="251.95" r="2.5"/>
<circle cx="272.73" cy="253.22" r="2.5"/>
<circle cx="268.10" cy="249.27" r="2.5"/>
<circle cx="266.47" cy="248.59" r="2.5"/>
<circle cx="263.62" cy="248.22" r="2.5"/>
<circle cx="261.64" cy="248.02" r="2.5"/>
<circle cx="258.82" cy="247.06" r="2.5"/>
<circle cx="256.19" cy="247.79" r="2.5"/>
<circle cx="253.35" cy="247.30" r="2.5"/>
<circle cx="255.27" cy="250.61" r="2.5"/>
<circle cx="253.14" cy="252.92" r="2.5"/>
<circle cx="253.55" cy="254.80" r="2.5"/>
<circle cx="252.90" cy="252.72" r="2.5"/>
<circle cx="255.40" cy="260.06" r="2.5"/>
<circle cx="254.57" cy="261.42" r="2.5"/>
<circle cx="257.01" cy="265.03" r="2.5"/>
<circle cx="258.47" cy="266.36" r="2.5"/>
<circle cx="257.55" cy="268.23" r="2.5"/>
<circle cx="264.35" cy="272.37" r="2.5"/>
<circle cx="266.75" cy="274.56" r="2.5"/>
<circle cx="273.37" cy="277.83" r="2.5"/>
<circle cx="271.31" cy="277.60" r="2.5"/>
<circle cx="275.73" cy="280.64" r="2.5"/>
<circle cx="277.45" cy="281.86" r="2.5"/>
<circle cx="284.26" cy="283.30" r="2.5"/>
<circle cx="285.55" cy="284.03" r="2.5"/>
<circle cx="285.95" cy="283.85" r="2.5"/>
<circle cx="287.98" cy="284.58" r="2.5"/>
<circle cx="290.25" cy="284.99" r="2.5"/>
<circle cx="292.23" cy="285.29" r="2.5"/>
<circle cx="293.47" cy="285.30" r="2.5"/>
<circle cx="292.31" cy="285.35" r="2.5"/>
<circle cx="293.38" cy="285.31" r="2.5"/>
<circle cx="290.94" cy="285.56" r="2.5"/>
<circle cx="287.19" cy="286.06" r="2.5"/>
<circle cx="288.28" cy="286.21" r="2.5"/>
<circle cx="287.41" cy="286.71" r="2.5"/>
<circle cx="284.91" cy="287.59" r="2.5"/>
<circle cx="284.10" cy="287.73" r="2.5"/>
<circle cx="278.16" cy="290.02" r="2.5"/>
<circle cx="277.44" cy="290.68" r="2.5"/>
<circle cx="271.53" cy="294.65" r="2.5"/>
<circle cx="267.96" cy="296.21" r="2.5"/>
<circle cx="267.04" cy="297.58" r="2.5"/>
<circle cx="264.17" cy="302.25" r="2.5"/>
<circle cx="263.97" cy="303.74" r="2.5"/>
<circle cx="258.83" cy="306.96" r="2.5"/>
<circle cx="261.53" cy="308.37" r="2.5"/>
<circle cx="256.93" cy="311.39" r="2.5"/>
<circle cx="256.03" cy="315.28" r="2.5"/>
<circle cx="253.46" cy="317.76" r="2.5"/>
<circle cx="255.69" cy="321.69" r="2.5"/>
<circle cx="254.69" cy="322.77" r="2.5"/>
<circle cx="258.86" cy="322.93" r="2.5"/>
<circle cx="258.65" cy="324.48" r="2.5"/>
<circle cx="258.78" cy="326.53" r="2.5"/>
<circle cx="264.21" cy="322.47" r="2.5"/>
<circle cx="266.91" cy="323.47" r="2.5"/>
<circle cx="266.39" cy="324.75" r="2.5"/>
<circle cx="270.40" cy="323.98" r="2.5"/>
<circle cx="273.36" cy="322.73" r="2.5"/>
<circle cx="275.90" cy="320.44" r="2.5"/>
<circle cx="277.91" cy="320.38" r="2.5"/>
<circle cx="281.21" cy="314.54" r="2.5"/>
<circle cx="283.19" cy="309.55" r="2.5"/>
<circle cx="286.30" cy="306.74" r="2.5"/>
<circle cx="287.34" cy="304.46" r="2.5"/>
<circle cx="288.54" cy="302.79" r="2.5"/>
<circle cx="290.17" cy="299.14" r="2.5"/>
<circle cx="290.51" cy="299.68" r="2.5"/>
<circle cx="292.09" cy="294.55" r="2.5"/>
<circle cx="292.58" cy="290.98" r="2.5"/>
<circle cx="293.25" cy="288.39" r="2.5"/>
<circle cx="293.50" cy="285.30" r="2.5"/>
<circle cx="293.46" cy="287.81" r="2.5"/>
<circle cx="293.51" cy="285.56" r="2.5"/>
<circle cx="293.50" cy="285.55" r="2.5"/>
<circle cx="293.50" cy="285.30" r="2.5"/>
<circle cx="293.73" cy="287.67" r="2.5"/>
<circle cx="293.61" cy="286.18" r="2.5"/>
<circle cx="293.79" cy="286.91" r="2.5"/>
<circle cx="294.44" cy="289.48" r="2.5"/>
<circle cx="294.76" cy="290.16" r="2.5"/>
<circle cx="296.17" cy="296.01" r="2.5"/>
<circle cx="298.48" cy="300.73" r="2.5"/>
<circle cx="298.47" cy="299.59" r="2.5"/>
<circle cx="301.78" cy="306.12" r="2.5"/>
<circle cx="304.82" cy="309.52" r="2.5"/>
<circle cx="307.00" cy="312.28" r="2.5"/>
<circle cx="310.31" cy="315.68" r="2.5"/>
<circle cx="310.68" cy="317.87" r="2.5"/>
<circle cx="316.10" cy="319.19" r="2.5"/>
<circle cx="316.75" cy="320.21" r="2.5"/>
<circle cx="320.46" cy="324.99" r="2.5"/>
<circle cx="325.04" cy="321.61" r="2.5"/>
<circle cx="324.92" cy="321.46" r="2.5"/>
<circle cx="329.41" cy="325.09" r="2.5"/>
<circle cx="330.85" cy="322.34" r="2.5"/>
<circle cx="330.18" cy="320.60" r="2.5"/>
<circle cx="333.36" cy="319.78" r="2.5"/>
<circle cx="333.10" cy="318.56" r="2.5"/>
<circle cx="332.19" cy="315.76" r="2.5"/>
<circle cx="334.63" cy="314.84" r="2.5"/>
<circle cx="331.38" cy="311.59" r="2.5"/>
<circle cx="335.78" cy="310.20" r="2.5"/>
<circle cx="329.94" cy="308.76" r="2.5"/>
<circle cx="329.35" cy="303.76" r="2.5"/>
<circle cx="328.47" cy="301.84" r="2.5"/>
<circle cx="323.48" cy="298.15" r="2.5"/>
<circle cx="318.07" cy="294.54" r="2.5"/>
<circle cx="317.88" cy="294.47" r="2.5"/>
<circle cx="316.56" cy="291.79" r="2.5"/>
<circle cx="309.19" cy="289.97" r="2.5"/>
<circle cx="308.63" cy="288.96" r="2.5"/>
<circle cx="304.61" cy="287.85" r="2.5"/>
<circle cx="305.11" cy="287.06" r="2.5"/>
<circle cx="297.70" cy="285.99" r="2.5"/>
<circle cx="299.96" cy="285.83" r="2.5"/>
<circle cx="298.46" cy="285.55" r="2.5"/>
<circle cx="293.50" cy="285.30" r="2.5"/>
<circle cx="293.50" cy="285.30" r="2.5"/>
</g>
<polyline points="293.50,285.30 293.56,285.30 293.75,285.29 294.06,285.27 294.50,285.23 295.05,285.16 295.72,285.07 296.50,284.93 297.39,284.75 298.38,284.53 299.46,284.25 300.63,283.91 301.87,283.52 303.19,283.06 304.56,282.54 305.99,281.95 307.46,281.30 308.97,280.57 310.50,279.78 312.04,278.92 313.58,277.99 315.12,277.00 316.64,275.95 318.14,274.84 319.60,273.68 321.01,272.47 322.37,271.22 323.67,269.93 324.89,268.61 326.04,267.26 327.10,265.90 328.07,264.53 328.94,263.16 329.71,261.79 330.37,260.43 330.92,259.10 331.35,257.80 331.67,256.53 331.88,255.32 331.96,254.15 331.93,253.05 331.78,252.02 331.52,251.07 331.15,250.19 330.66,249.41 330.08,248.72 329.39,248.14 328.61,247.65 327.73,247.28 326.78,247.02 325.75,246.87 324.65,246.84 323.48,246.92 322.27,247.13 321.00,247.45 319.70,247.88 318.37,248.43 317.01,249.09 315.64,249.86 314.27,250.73 312.90,251.70 311.54,252.76 310.19,253.91 308.87,255.13 307.58,256.43 306.33,257.79 305.12,259.20 303.96,260.66 302.85,262.16 301.80,263.68 300.81,265.22 299.88,266.76 299.02,268.30 298.23,269.83 297.50,271.34 296.85,272.81 296.26,274.24 295.74,275.61 295.28,276.93 294.89,278.17 294.55,279.34 294.27,280.42 294.05,281.41 293.87,282.30 293.73,283.08 293.64,283.75 293.57,284.30 293.53,284.74 293.51,285.05 293.50,285.24 293.50,285.30 293.50,285.24 293.49,285.05 293.47,284.74 293.43,284.30 293.36,283.75 293.27,283.08 293.13,282.30 292.95,281.41 292.73,280.42 292.45,279.34 292.11,278.17 291.72,276.93 291.26,275.61 290.74,274.24 290.15,272.81 289.50,271.34 288.77,269.83 287.98,268.30 287.12,266.76 286.19,265.22 285.20,263.68 284.15,262.16 283.04,260.66 281.88,259.20 280.67,257.79 279.42,256.43 278.13,255.13 276.81,253.91 275.46,252.76 274.10,251.70 272.73,250.73 271.36,249.86 269.99,249.09 268.63,248.43 267.30,247.88 266.00,247.45 264.73,247.13 263.52,246.92 262.35,246.84 261.25,246.87 260.22,247.02 259.27,247.28 258.39,247.65 257.61,248.14 256.92,248.72 256.34,249.41 255.85,250.19 255.48,251.07 255.22,252.02 255.07,253.05 255.04,254.15 255.12,255.32 255.33,256.53 255.65,257.80 256.08,259.10 256.63,260.43 257.29,261.79 258.06,263.16 258.93,264.53 259.90,265.90 260.96,267.26 262.11,268.61 263.33,269.93 264.63,271.22 265.99,272.47 267.40,273.68 268.86,274.84 270.36,275.95 271.88,277.00 273.42,277.99 274.96,278.92 276.50,279.78 278.03,280.57 279.54,281.30 281.01,281.95 282.44,282.54 283.81,283.06 285.13,283.52 286.37,283.91 287.54,284.25 288.62,284.53 289.61,284.75 290.50,284.93 291.28,285.07 291.95,285.16 292.50,285.23 292.94,285.27 293.25,285.29 293.44,285.30 293.50,285.30 293.44,285.30 293.25,285.31 292.94,285.33 292.50,285.37 291.95,285.44 291.28,285.53 290.50,285.67 289.61,285.85 288.62,286.07 287.54,286.35 286.37,286.69 285.13,287.08 283.81,287.54 282.44,288.06 281.01,288.65 279.54,289.30 278.03,290.03 276.50,290.82 274.96,291.68 273.42,292.61 271.88,293.60 270.36,294.65 268.86,295.76 267.40,296.92 265.99,298.13 264.63,299.38 263.33,300.67 262.11,301.99 260.96,303.34 259.90,304.70 258.93,306.07 258.06,307.44 257.29,308.81 256.63,310.17 256.08,311.50 255.65,312.80 255.33,314.07 255.12,315.28 255.04,316.45 255.07,317.55 255.22,318.58 255.48,319.53 255.85,320.41 256.34,321.19 256.92,321.88 257.61,322.46 258.39,322.95 259.27,323.32 260.22,323.58 261.25,323.73 262.35,323.76 263.52,323.68 264.73,323.47 266.00,323.15 267.30,322.72 268.63,322.17 269.99,321.51 271.36,320.74 272.73,319.87 274.10,318.90 275.46,317.84 276.81,316.69 278.13,315.47 279.42,314.17 280.67,312.81 281.88,311.40 283.04,309.94 284.15,308.44 285.20,306.92 286.19,305.38 287.12,303.84 287.98,302.30 288.77,300.77 289.50,299.26 290.15,297.79 290.74,296.36 291.26,294.99 291.72,293.67 292.11,292.43 292.45,291.26 292.73,290.18 292.95,289.19 293.13,288.30 293.27,287.52 293.36,286.85 293.43,286.30 293.47,285.86 293.49,285.55 293.50,285.36 293.50,285.30 293.50,285.36 293.51,285.55 293.53,285.86 293.57,286.30 293.64,286.85 293.73,287.52 293.87,288.30 294.05,289.19 294.27,290.18 294.55,291.26 294.89,292.43 295.28,293.67 295.74,294.99 296.26,296.36 296.85,297.79 297.50,299.26 298.23,300.77 299.02,302.30 299.88,303.84 300.81,305.38 301.80,306.92 302.85,308.44 303.96,309.94 305.12,311.40 306.33,312.81 307.58,314.17 308.87,315.47 310.19,316.69 311.54,317.84 312.90,318.90 314.27,319.87 315.64,320.74 317.01,321.51 318.37,322.17 319.70,322.72 321.00,323.15 322.27,323.47 323.48,323.68 324.65,323.76 325.75,323.73 326.78,323.58 327.73,323.32 328.61,322.95 329.39,322.46 330.08,321.88 330.66,321.19 331.15,320.41 331.52,319.53 331.78,318.58 331.93,317.55 331.96,316.45 331.88,315.28 331.67,314.07 331.35,312.80 330.92,311.50 330.37,310.17 329.71,308.81 328.94,307.44 328.07,306.07 327.10,304.70 326.04,303.34 324.89,301.99 323.67,300.67 322.37,299.38 321.01,298.13 319.60,296.92 318.14,295.76 316.64,294.65 315.12,293.60 313.58,292.61 312.04,291.68 310.50,290.82 308.97,290.03 307.46,289.30 305.99,288.65 304.56,288.06 303.19,287.54 301.87,287.08 300.63,286.69 299.46,286.35 298.38,286.07 297.39,285.85 296.50,285.67 295.72,285.53 295.05,285.44 294.50,285.37 294.06,285.33 293.75,285.31 293.56,285.30 293.50,285.30" fill="none" stroke="#000" stroke-width="2.1" stroke-linejoin="round"/>
<g font-family="'Liberation Serif', 'DejaVu Serif', serif" font-size="8.2px" fill="#111" stroke="#111" text-anchor="middle">
<text x="293.5" y="217.8">90</text>
<text x="330.3" y="225.9">60</text>
<text x="354.1" y="250.0">30</text>
<text x="361.5" y="288.1">0</text>
<text x="356.9" y="325.1">330</text>
<text x="333.9" y="349.1">300</text>
<text x="293.8" y="358.9">270</text>
<text x="255.5" y="349.1">240</text>
<text x="231.0" y="325.1">210</text>
<text x="223.7" y="288.1">180</text>
<text x="231.5" y="250.0">150</text>
<text x="255.0" y="225.9">120</text>
</g>
<g stroke="#444" stroke-width="0.9" fill="none">
<line x1="49.8" y1="222.6" x2="49.8" y2="348.2"/>
<line x1="49.8" y1="222.60" x2="47.199999999999996" y2="222.60"/>
<line x1="49.8" y1="238.30" x2="48.3" y2="238.30"/>
<line x1="49.8" y1="254.00" x2="47.199999999999996" y2="254.00"/>
<line x1="49.8" y1="269.70" x2="48.3" y2="269.70"/>
<line x1="49.8" y1="285.40" x2="47.199999999999996" y2="285.40"/>
<line x1="49.8" y1="301.10" x2="48.3" y2="301.10"/>
<line x1="49.8" y1="316.80" x2="47.199999999999996" y2="316.80"/>
<line x1="49.8" y1="332.50" x2="48.3" y2="332.50"/>
<line x1="49.8" y1="348.20" x2="47.199999999999996" y2="348.20"/>
</g>
<g font-family="'Liberation Serif', 'DejaVu Serif', serif" font-size="12.8px" fill="#111" stroke="#111" text-anchor="end">
<text x="45.2" y="227.3">1.0</text>
<text x="45.2" y="258.7">0.5</text>
<text x="45.2" y="290.1">0.0</text>
<text x="45.2" y="321.5">0.5</text>
<text x="45.2" y="352.9">1.0</text>
</g>
<text transform="translate(19.4,285.3) rotate(-90) scale(1.064,1)" text-anchor="middle" font-family="'Liberation Serif', 'DejaVu Serif', serif" font-size="18.8px" fill="#111" stroke="#111" style="stroke-width:0.1px"><tspan font-style="italic">I</tspan><tspan font-size="12.7px" dy="3.3">SH</tspan><tspan dy="-3.3"> (a.u.)</tspan></text>
<g font-family="'Liberation Serif', 'DejaVu Serif', serif" font-size="14.4px" fill="#111" stroke="#111">
<text x="31.5" y="186.3">(b)</text>
<text x="218" y="186.3">(c)</text>
</g>
<text x="78.6" y="198.1" font-family="'Liberation Serif', 'DejaVu Serif', serif" fill="#ff0000" stroke="#ff0000" font-size="14.3px" textLength="48.9" lengthAdjust="spacingAndGlyphs">Analyzer</text><text transform="translate(136.4,198.1) scale(1.5,1)" x="0" y="0" text-anchor="middle" font-family="'Liberation Serif', 'DejaVu Serif', serif" fill="#ff0000" stroke="#ff0000" font-size="14px">‖</text><text x="144.3" y="198.1" font-family="'Liberation Serif', 'DejaVu Serif', serif" fill="#ff0000" stroke="#ff0000" font-size="14.0px">[112]</text><line x1="163.52" y1="186.90" x2="169.40" y2="186.90" stroke="#ff0000" stroke-width="0.9"/>
<text x="243.0" y="198.0" font-family="'Liberation Serif', 'DejaVu Serif', serif" fill="#1414f0" stroke="#1414f0" font-size="14.3px" textLength="48.9" lengthAdjust="spacingAndGlyphs">Analyzer</text><text transform="translate(301.3,198.0) scale(1.5,1)" x="0" y="0" text-anchor="middle" font-family="'Liberation Serif', 'DejaVu Serif', serif" fill="#1414f0" stroke="#1414f0" font-size="14px">‖</text><text x="308.8" y="198.0" font-family="'Liberation Serif', 'DejaVu Serif', serif" fill="#1414f0" stroke="#1414f0" font-size="14.1px">[110]</text><line x1="321.11" y1="186.72" x2="327.03" y2="186.72" stroke="#1414f0" stroke-width="0.9"/>
<polygon points="126.2,437.8 267.6,437.8 305,475.8 290.5,485 197.6,485 163.2,475.3" fill="#bebebe"/>
<defs><linearGradient id="lf" x1="0" y1="0" x2="1" y2="0"><stop offset="0" stop-color="#a9a9a9"/><stop offset="1" stop-color="#8f8f8f"/></linearGradient></defs>
<polygon points="126.2,437.8 163.2,475.3 163.2,508.4 126.2,470.2" fill="url(#lf)"/>
<polygon points="163.2,475.3 197.6,485 197.6,518.1 163.2,508.4" fill="#dbdbdb"/>
<polygon points="197.6,485 290.5,485 290.5,518.1 197.6,518.1" fill="#a9a9a9"/>
<defs><linearGradient id="rf" x1="0" y1="0" x2="1" y2="0"><stop offset="0" stop-color="#c2c2c2"/><stop offset="1" stop-color="#dadada"/></linearGradient></defs>
<polygon points="290.5,485 305,475.8 305,509 290.5,518.1" fill="url(#rf)"/>
<defs><linearGradient id="ff" x1="0" y1="0" x2="0" y2="1"><stop offset="0" stop-color="#1d6cd0"/><stop offset="1" stop-color="#2c7edb"/></linearGradient></defs>
<polygon points="200.9,390.2 248,390.2 262.7,402.5 248.7,465 202.5,464.3 184.6,449.7" fill="#39a3e8"/>
<polygon points="200.9,390.2 215.5,402.5 202.5,464.3 184.6,449.7" fill="url(#ff)"/>
<polygon points="200.9,390.2 248,390.2 262.7,402.5 215.5,402.5" fill="#2b85dc"/>
<polygon points="215.5,402.5 245.4,402.5 234.1,450.2 205.5,450.2" fill="#a3d2f2"/>
<polygon points="205.5,450.2 234.1,450.2 248.7,465 202.5,464.3" fill="#56b2ee"/>
<g fill="none" stroke="#000" stroke-width="2.6" stroke-linejoin="miter" stroke-linecap="butt">
<polyline points="167,456 190.5,475.5 247.5,475.5"/>
<polyline points="175.76,457.13 166.40,455.50 169.73,464.40"/>
<polyline points="240.06,480.22 248.30,475.50 240.06,470.78"/>
<polyline points="131.5,494.9 174.8,533.3 249.5,533.3"/>
<polyline points="140.20,496.24 130.90,494.30 133.94,503.30"/>
<polyline points="242.06,538.02 250.30,533.30 242.06,528.58"/>
</g>
<g fill="none" stroke="#e2305a" stroke-width="2.3" stroke-linecap="butt">
<line x1="237.3" y1="456.2" x2="221.2" y2="420"/>
<polyline points="226.66,423.45 220.70,418.90 220.10,426.38"/>
</g>
<g font-family="'Liberation Serif', 'DejaVu Serif', serif" font-size="14.4px" fill="#111" stroke="#111">
<text x="80.6" y="395">(d)</text>
<text x="187.6" y="383.2">YbFe<tspan font-size="9.5px" dy="3">2</tspan><tspan dy="-3">O</tspan><tspan font-size="9.5px" dy="3">4</tspan><tspan dy="-3"> film</tspan></text>
<text x="107.5" y="467.3" text-anchor="middle">YSZ</text>
</g><text x="91.90" y="484.5" font-family="'Liberation Serif', 'DejaVu Serif', serif" font-size="14.4px" fill="#111" stroke="#111">[110]</text><line x1="104.48" y1="472.98" x2="110.52" y2="472.98" stroke="#111" stroke-width="0.9"/><g font-family="'Liberation Serif', 'DejaVu Serif', serif" font-size="14.4px" fill="#111" stroke="#111">
</g><text x="258.50" y="541" font-family="'Liberation Serif', 'DejaVu Serif', serif" font-size="14.4px" fill="#111" stroke="#111">YSZ [112]</text><line x1="309.08" y1="529.48" x2="315.12" y2="529.48" stroke="#111" stroke-width="0.9"/><g font-family="'Liberation Serif', 'DejaVu Serif', serif" font-size="14.4px" fill="#111" stroke="#111">
</g>
<text x="195.2" y="414.8" font-family="'Liberation Serif', 'DejaVu Serif', serif" font-size="14.5px" fill="#e81c30" stroke="#e81c30" style="stroke-width:0.45px">Polarization</text>
<text x="198" y="507.7" font-family="'Liberation Serif', 'DejaVu Serif', serif" font-size="16px" fill="#ffffff" stroke="#ffffff" style="stroke-width:0.3px">YSZ substrate</text>
<text x="144.3" y="453.3" font-family="'Liberation Serif', 'DejaVu Serif', serif" font-size="20px" font-style="italic" fill="#111" stroke="#111">b<tspan font-size="13.5px" dy="3.2">m</tspan></text>
<text x="259.3" y="481.6" font-family="'Liberation Serif', 'DejaVu Serif', serif" font-size="20px" font-style="italic" fill="#111" stroke="#111">a<tspan font-size="13.5px" dy="3.3">m</tspan></text>
</svg>
</body>
</html>
